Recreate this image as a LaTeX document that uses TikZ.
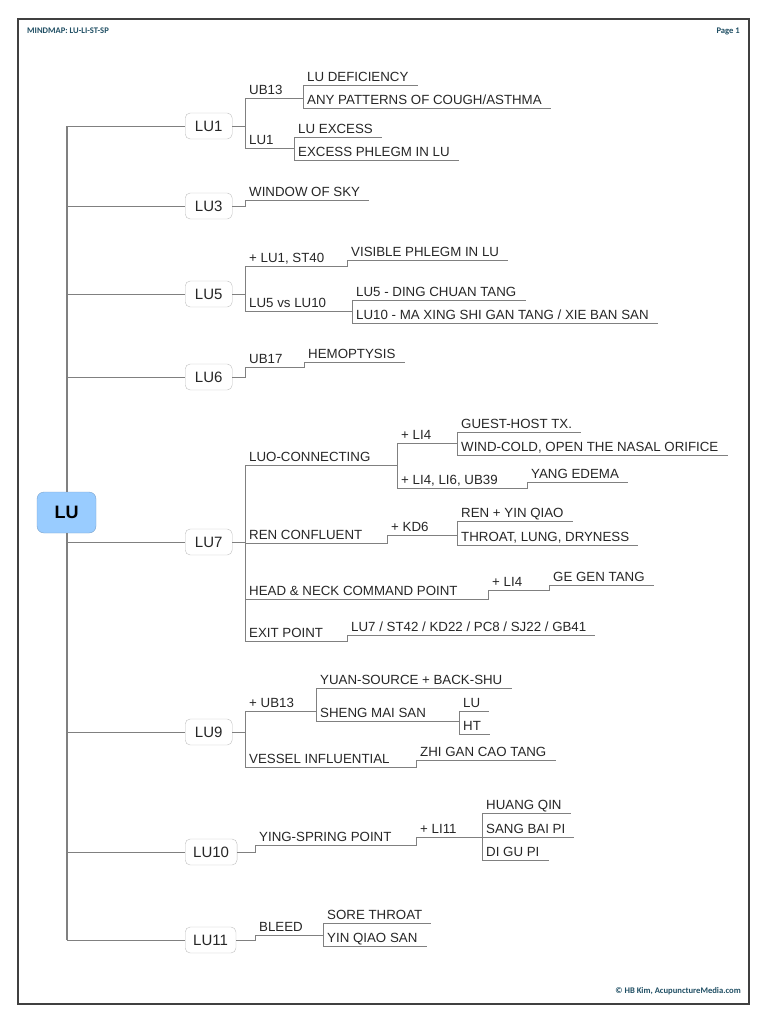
\documentclass[tikz,border=0pt]{standalone}
\usepackage{fontspec}
\setmainfont{Liberation Sans}
\newfontfamily\headfont{Carlito}
\definecolor{rootblue}{RGB}{153,204,255}
\definecolor{headteal}{RGB}{31,78,99}
\definecolor{linegray}{RGB}{128,128,128}
\tikzset{
  uline/.style={draw=linegray, line width=0.9pt},
  conn/.style={draw=linegray, line width=0.9pt},
  spine/.style={draw=linegray, line width=2pt},
  topic/.style={anchor=south west, inner xsep=4pt, inner ysep=3pt, text depth=0pt,
    font=\fontsize{13.3}{15}\selectfont, text=black!85,
    append after command={(\tikzlastnode.south west) edge[uline] ([xshift=5pt]\tikzlastnode.south east)}},
  ptbox/.style={anchor=west, draw=black!25, fill=white, rounded corners=5pt, inner xsep=8pt,
    minimum width=47pt, minimum height=26pt, font=\fontsize{15}{17}\selectfont, text=black!85},
  rootbox/.style={draw=rootblue!80!black, fill=rootblue, rounded corners=7pt,
    minimum width=59pt, minimum height=41pt, font=\bfseries\fontsize{18}{20}\selectfont},
  headtext/.style={inner sep=0pt, text=headteal, font=\headfont\bfseries\fontsize{8.6}{10}\selectfont}
}
\begin{document}
\begin{tikzpicture}[x=1pt, y=-1pt]
\useasboundingbox (0,0) rectangle (768,1024);
%page frame and header
\draw[black!75, line width=1.3pt] (18,19) rectangle (749,1004);
\node[headtext, anchor=west] (title) at (27,31) {MINDMAP: LU-LI-ST-SP};
\node[headtext, anchor=east] (page) at (740,31) {Page 1};
\node[headtext, anchor=east] (credit) at (741,991) {\textcopyright{} HB Kim, AcupunctureMedia.com};
%root
\node[rootbox] (lu) at (66.5,512.5) {LU};
%points
\node[ptbox] (lu1) at (185,126) {LU1};
\node[ptbox] (lu3) at (185,206) {LU3};
\node[ptbox] (lu5) at (185,294) {LU5};
\node[ptbox] (lu6) at (185,377) {LU6};
\node[ptbox] (lu7) at (185,542) {LU7};
\node[ptbox] (lu9) at (185,732) {LU9};
\node[ptbox] (lu10) at (185,852) {LU10};
\node[ptbox] (lu11) at (185,940) {LU11};
%LU1
\node[topic] (ub13) at (245,98) {UB13};
\node[topic] (ludef) at (303,85) {LU DEFICIENCY};
\node[topic] (cough) at (303,108) {ANY PATTERNS OF COUGH/ASTHMA};
\node[topic] (luone) at (245,148) {LU1};
\node[topic] (luexc) at (294,137) {LU EXCESS};
\node[topic] (phlegm) at (294,160) {EXCESS PHLEGM IN LU};
%LU3
\node[topic] (window) at (245,200) {WINDOW OF SKY};
%LU5
\node[topic] (plusst) at (245,266) {+ LU1, ST40};
\node[topic] (visible) at (347,260) {VISIBLE PHLEGM IN LU};
\node[topic] (versus) at (245,311) {LU5 vs LU10};
\node[topic] (ding) at (352,300) {LU5 - DING CHUAN TANG};
\node[topic] (maxing) at (352,323) {LU10 - MA XING SHI GAN TANG / XIE BAN SAN};
%LU6
\node[topic] (ub17) at (245,367) {UB17};
\node[topic] (hemo) at (304,362) {HEMOPTYSIS};
%LU7
\node[topic] (luo) at (245,465) {LUO-CONNECTING};
\node[topic] (lifour) at (397,443) {+ LI4};
\node[topic] (guest) at (457,432) {GUEST-HOST TX.};
\node[topic] (wind) at (457,455) {WIND-COLD, OPEN THE NASAL ORIFICE};
\node[topic] (lisix) at (397,488) {+ LI4, LI6, UB39};
\node[topic] (yang) at (527,482) {YANG EDEMA};
\node[topic] (ren) at (245,543) {REN CONFLUENT};
\node[topic] (kd6) at (387,535) {+ KD6};
\node[topic] (renyin) at (457,521) {REN + YIN QIAO};
\node[topic] (throat) at (457,545) {THROAT, LUNG, DRYNESS};
\node[topic] (head) at (245,599) {HEAD \& NECK COMMAND POINT};
\node[topic] (lifourb) at (488,590) {+ LI4};
\node[topic] (gegen) at (549,585) {GE GEN TANG};
\node[topic] (exit) at (245,641) {EXIT POINT};
\node[topic] (exitpts) at (347,635) {LU7 / ST42 / KD22 / PC8 / SJ22 / GB41};
%LU9
\node[topic] (ub13b) at (245,711) {+ UB13};
\node[topic] (yuan) at (316,688) {YUAN-SOURCE + BACK-SHU};
\node[topic] (sheng) at (316,721) {SHENG MAI SAN};
\node[topic] (smlu) at (459,711) {LU};
\node[topic] (smht) at (459,734) {HT};
\node[topic] (vessel) at (245,767) {VESSEL INFLUENTIAL};
\node[topic] (zhigan) at (416,760) {ZHI GAN CAO TANG};
%LU10
\node[topic] (ying) at (255,845) {YING-SPRING POINT};
\node[topic] (lieleven) at (416,837) {+ LI11};
\node[topic] (huang) at (482,813) {HUANG QIN};
\node[topic] (sangbai) at (482,837) {SANG BAI PI};
\node[topic] (digu) at (482,860) {DI GU PI};
%LU11
\node[topic] (bleed) at (255,935) {BLEED};
\node[topic] (sore) at (323,923) {SORE THROAT};
\node[topic] (yinqiao) at (323,946) {YIN QIAO SAN};
%spine
\draw[spine] (lu.north) -- (lu.north |- lu1.west);
\draw[spine] (lu.south) -- (lu.south |- lu11.west);
\foreach \b in {lu1,lu3,lu5,lu6,lu7,lu9,lu10,lu11}
  \draw[conn] (lu.center |- \b.west) -- (\b.west);
%box to first level
\foreach \a/\b in {lu1/ub13, lu1/luone, lu3/window, lu5/plusst, lu5/versus, lu6/ub17,
  lu7/luo, lu7/ren, lu7/head, lu7/exit, lu9/ub13b, lu9/vessel, lu10/ying, lu11/bleed}
  \draw[conn] (\a.east) -| (\b.south west);
%deeper levels
\foreach \a/\b in {ub13/ludef, ub13/cough, luone/luexc, luone/phlegm,
  plusst/visible, versus/ding, versus/maxing, ub17/hemo,
  luo/lifour, luo/lisix, lifour/guest, lifour/wind, lisix/yang,
  ren/kd6, kd6/renyin, kd6/throat, head/lifourb, lifourb/gegen, exit/exitpts,
  ub13b/yuan, ub13b/sheng, sheng/smlu, sheng/smht, vessel/zhigan,
  ying/lieleven, lieleven/huang, lieleven/sangbai, lieleven/digu,
  bleed/sore, bleed/yinqiao}
  \draw[conn] (\a.south east) -| (\b.south west);
\end{tikzpicture}
\end{document}
